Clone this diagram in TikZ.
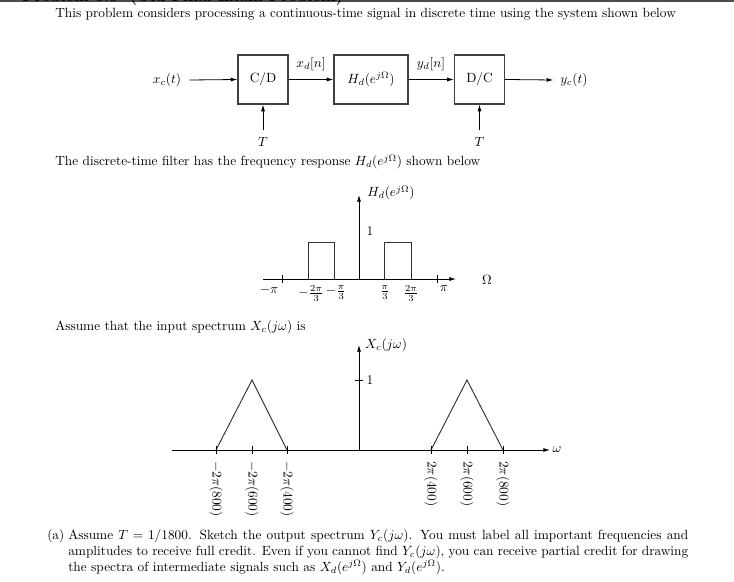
\documentclass[tikz,border=0pt]{standalone}
\usetikzlibrary{arrows.meta}
\begin{document}
\begin{tikzpicture}[x=0.75pt,y=-0.75pt,
  blk/.style={draw=black!75, line width=0.9pt, minimum width=37.5pt, minimum height=36.75pt, inner sep=0pt},
  arr/.style={-{Latex[length=5pt,width=3pt]}, line width=0.6pt},
  pl/.style={line width=0.7pt, black!80},
  tk/.style={line width=0.6pt},
  txt/.style={anchor=west, inner sep=0pt},
  flab/.style={anchor=north, inner sep=0pt}]
\useasboundingbox (0,0) rectangle (734,581);
% top rule and cut-off header
\begin{scope}
\clip (0,0) rectangle (734,581);
\draw[black!70, line width=1.4pt] (0,1) -- (734,1);
\node[anchor=base west, inner sep=0pt] (hdr) at (22,1.5) {\large\bfseries Problem 3.3 \ (Old Final Exam Problem)};
\end{scope}

\node[txt] (t1) at (55,14) {This problem considers processing a continuous-time signal in discrete time using the system shown below};

% block diagram
\node (xc) at (167,80) [outer sep=3pt] {$x_c(t)$};
\node[blk] (cd) at (263,79.5) {C/D};
\node[blk, minimum width=55.5pt] (hd) at (371,79.5) {$H_d(e^{j\Omega})$};
\node[blk] (dc) at (479.5,79.5) {D/C};
\node (yc) at (574,80) [outer sep=2pt] {$y_c(t)$};
\node (T1) at (263,142) [outer sep=2pt] {$T$};
\node (T2) at (479.5,142) [outer sep=2pt] {$T$};
\node (xd) at (311,64) {$x_d[n]$};
\node (yd) at (431,64) {$y_d[n]$};
\draw[arr] (xc.east) -- (cd.west);
\draw[arr] (cd.east) -- (hd.west);
\draw[arr] (hd.east) -- (dc.west);
\draw[arr] (dc.east) -- (yc.west);
\draw[arr] (T1.north) -- (cd.south);
\draw[arr] (T2.north) -- (dc.south);

\node[txt] (t2) at (55,162) {The discrete-time filter has the frequency response $H_d(e^{j\Omega})$ shown below};

% filter response plot
\draw[arr] (263,279) -- (456,279);
\draw[arr] (359,279) -- (359,195);
\draw[tk] (282,275) -- (282,283);
\draw[tk] (437,275) -- (437,283);
\draw[pl] (308,279) -- (308,242) -- (334,242) -- (334,279);
\draw[pl] (384,279) -- (384,242) -- (411,242) -- (411,279);
\node (Om) at (487,280) {$\Omega$};
\node (Hl) at (391,193) {$H_d(e^{j\Omega})$};
\node (one1) at (370,231) {$1$};
\node[flab] (l1) at (269,285) {$-\pi$};
\node[flab] (l2) at (311,285) {$-\frac{2\pi}{3}$};
\node[flab] (l3) at (336,285) {$-\frac{\pi}{3}$};
\node[flab] (l4) at (385,285) {$\frac{\pi}{3}$};
\node[flab] (l5) at (411,285) {$\frac{2\pi}{3}$};
\node[flab] (l6) at (444,285) {$\pi$};

\node[txt] (t3) at (55,327) {Assume that the input spectrum $X_c(j\omega)$ is};

% input spectrum plot
\draw[arr] (172,450) -- (550,450);
\draw[arr] (359,450) -- (359,345);
\draw[tk] (355,380) -- (363,380);
\node (one2) at (370,380) {$1$};
\node (om) at (557,450) {$\omega$};
\node (Xl) at (386,345) {$X_c(j\omega)$};
\draw[pl] (216,450) -- (252,380) -- (287,450);
\draw[pl] (431,450) -- (467,380) -- (503,450);
\foreach \xx in {216,252,287,431,467,503} \draw[tk] (\xx,446) -- (\xx,454);
\foreach \xx/\lab in {216/-2\pi(800),252/-2\pi(600),287/-2\pi(400),431/2\pi(400),467/2\pi(600),503/2\pi(800)}
  \node[rotate=-90, anchor=west, inner sep=0pt] at (\xx,461) {$\lab$};

% question text
\node[anchor=north west, inner sep=0pt] (qa) at (47,529) {(a)};
\node[anchor=north west, inner sep=0pt, text width=465pt, align=justify] (qt) at (68,529)
 {Assume $T=1/1800$. Sketch the output spectrum $Y_c(j\omega)$. You must label all important frequencies and\linebreak amplitudes to receive full credit. Even if you cannot find $Y_c(j\omega)$, you can receive partial credit for drawing\linebreak the spectra of intermediate signals such as $X_d(e^{j\Omega})$ and $Y_d(e^{j\Omega})$.};
\end{tikzpicture}
\end{document}
